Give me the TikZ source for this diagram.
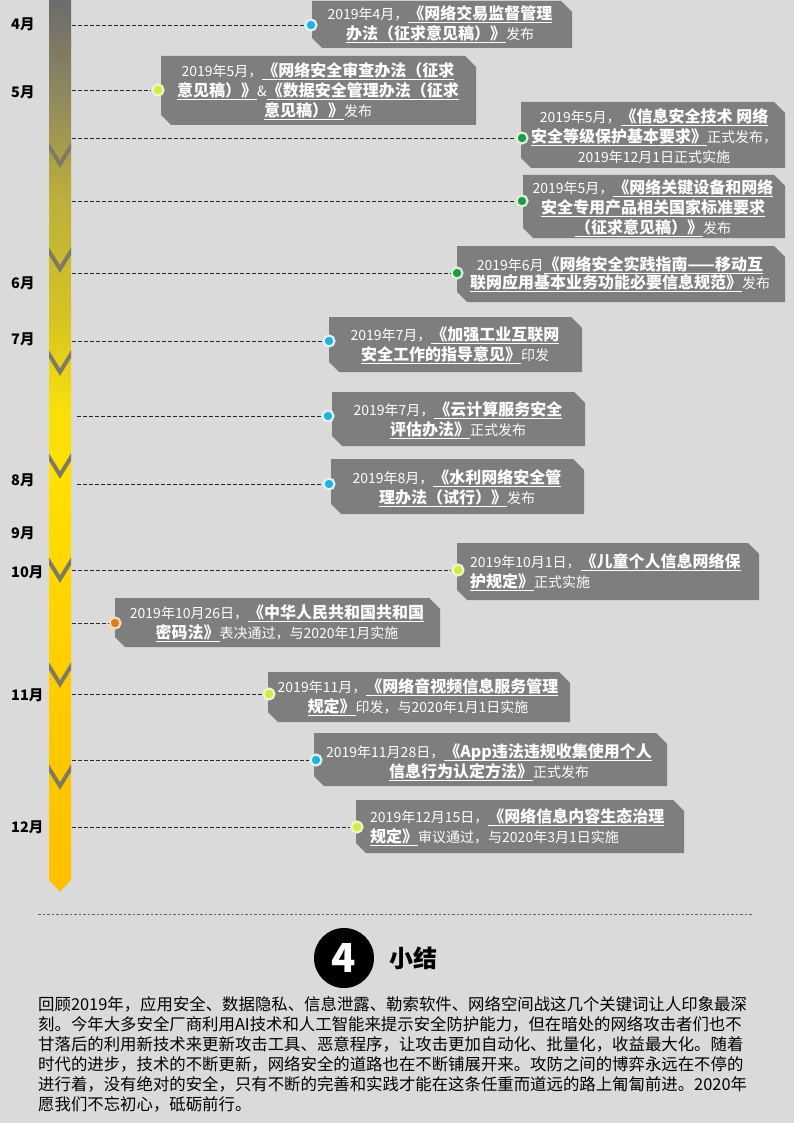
\documentclass[tikz,border=0pt]{standalone}
\usepackage{fontspec}
\setmainfont{Noto Sans CJK SC}
\definecolor{bg}{HTML}{DBDADB}
\definecolor{boxgray}{HTML}{7F7E7F}
\definecolor{dotcyan}{HTML}{22B2DA}
\definecolor{ringcyan}{HTML}{DDF1F4}
\definecolor{dotlime}{HTML}{D2EA48}
\definecolor{ringlime}{HTML}{EEF6C4}
\definecolor{dotgreen}{HTML}{1E9A4A}
\definecolor{ringgreen}{HTML}{DCEFD2}
\definecolor{dotorange}{HTML}{E07A24}
\definecolor{ringorange}{HTML}{F6DDB2}
\definecolor{chev}{HTML}{807A62}
\definecolor{sa}{HTML}{FFC000}
\definecolor{sb}{HTML}{FFC800}
\definecolor{sc}{HTML}{FFD400}
\definecolor{sd}{HTML}{FFE000}
\definecolor{se}{HTML}{F8E00A}
\definecolor{sf}{HTML}{D4C224}
\definecolor{sg}{HTML}{BDB03C}
\definecolor{sh}{HTML}{918A5C}
\definecolor{si}{HTML}{6C6C6C}
\pgfdeclareverticalshading{barshade}{100bp}{color(0bp)=(sa); color(25bp)=(sa); color(33bp)=(sb); color(41.4bp)=(sc); color(48bp)=(sd); color(52bp)=(se); color(57.5bp)=(sf); color(63.8bp)=(sg); color(69.4bp)=(sh); color(75bp)=(si); color(100bp)=(si)}
\newsavebox\ttlbox
\newcommand\ttl[1]{\sbox\ttlbox{\fontsize{16}{20}\selectfont\bfseries #1}\rlap{\rule[-3.6pt]{\wd\ttlbox}{1.1pt}}\usebox\ttlbox}
\newcommand\evbox[4]{\fill[boxgray] (#1,#2) -- ({#3-11},#2) -- (#3,{#2+11}) -- (#3,#4) -- ({#1+10},#4) -- (#1,{#4-10}) -- cycle;}
\tikzset{
  evtext/.style={text=white, font=\fontsize{14}{20}\selectfont, align=center, inner sep=0pt},
  evleft/.style={evtext, align=left, anchor=west},
  dot/.style 2 args={circle, fill=#1, draw=#2, line width=2.2pt, minimum size=11pt, inner sep=0pt},
  dline/.style={draw=black!85, line width=0.9pt, dash pattern=on 3.5pt off 2.5pt},
  month/.style={anchor=west, font=\fontsize{14.5}{16}\selectfont\bfseries, text=black, inner sep=0pt},
  chevron/.style={draw=chev, line width=4pt},
}
\begin{document}
\begin{tikzpicture}[x=1pt,y=-1pt]
\fill[bg] (0,0) rectangle (794,1123);
\useasboundingbox (0,0) rectangle (794,1123);
% bar
\shade[shading=barshade] (49,0) -- (71,0) -- (71,880) -- (60,892) -- (49,880) -- cycle;
\begin{scope}
\clip (49,0) -- (71,0) -- (71,880) -- (60,892) -- (49,880) -- cycle;
\foreach \t in {59,164,269,372,475,579,684,786}
  \draw[chevron] (47,{\t-21}) -- (60,\t) -- (73,{\t-21});
\end{scope}
% months
\node[month] (m4) at (11,24) {4月};
\node[month] (m5) at (11,92) {5月};
\node[month] (m6) at (11,283) {6月};
\node[month] (m7) at (11,339) {7月};
\node[month] (m8) at (11,480) {8月};
\node[month] (m9) at (11,533) {9月};
\node[month] (m10) at (11,572) {10月};
\node[month] (m11) at (11,695) {11月};
\node[month] (m12) at (11,827) {12月};
% bar anchor coordinates
\coordinate (b1) at (72,25);
\coordinate (b2) at (72,90);
\coordinate (b3) at (72,138);
\coordinate (b4) at (72,201);
\coordinate (b5) at (72,273);
\coordinate (b6) at (72,341);
\coordinate (b7) at (77,416);
\coordinate (b8) at (77,484);
\coordinate (b9) at (72,570);
\coordinate (b10) at (72,623);
\coordinate (b11) at (72,694);
\coordinate (b12) at (72,760);
\coordinate (b13) at (72,827);
% boxes
\evbox{312}{1}{572}{48}
\evbox{161}{56}{476}{125}
\evbox{521}{102}{785}{168}
\evbox{523}{175}{785}{238}
\evbox{457}{246}{785}{302}
\evbox{329}{317}{582}{372}
\evbox{332}{392}{585}{446}
\evbox{331}{459}{584}{514}
\evbox{457}{543}{759}{600}
\evbox{115}{598}{440}{647}
\evbox{268}{672}{570}{722}
\evbox{314}{733}{667}{786}
\evbox{356}{800}{684}{853}
% texts
\node[evtext] (t1) at (440,24.5) {2019年4月，\ttl{《网络交易监督管理}\\\ttl{办法（征求意见稿）》}发布};
\node[evtext] (t2) at (318,91) {2019年5月，\ttl{《网络安全审查办法（征求}\\\ttl{意见稿）》}\&\ttl{《数据安全管理办法（征求}\\\ttl{意见稿）》}发布};
\node[evtext] (t3) at (654,136) {2019年5月，\ttl{《信息安全技术 网络}\\\ttl{安全等级保护基本要求》}正式发布，\\2019年12月1日正式实施};
\node[evtext] (t4) at (653,208) {2019年5月，\ttl{《网络关键设备和网络}\\\ttl{安全专用产品相关国家标准要求}\\\ttl{（征求意见稿）》}发布};
\node[evtext, font=\fontsize{14}{18}\selectfont] (t5) at (620,274) {2019年6月\ttl{《网络安全实践指南——移动互}\\\ttl{联网应用基本业务功能必要信息规范》}发布};
\node[evtext] (t6) at (455,345) {2019年7月，\ttl{《加强工业互联网}\\\ttl{安全工作的指导意见》}印发};
\node[evtext] (t7) at (458,420) {2019年7月，\ttl{《云计算服务安全}\\\ttl{评估办法》}正式发布};
\node[evtext] (t8) at (457,488) {2019年8月，\ttl{《水利网络安全管}\\\ttl{理办法（试行）》}发布};
\node[evleft] (t9) at (470,572) {2019年10月1日，\ttl{《儿童个人信息网络保}\\\ttl{护规定》}正式实施};
\node[evtext] (t10) at (277,623) {2019年10月26日，\ttl{《中华人民共和国共和国}\\\ttl{密码法》}表决通过，与2020年1月实施};
\node[evtext] (t11) at (418,697) {2019年11月，\ttl{《网络音视频信息服务管理}\\\ttl{规定》}印发，与2020年1月1日实施};
\node[evtext] (t12) at (489,762) {2019年11月28日，\ttl{《App违法违规收集使用个人}\\\ttl{信息行为认定方法》}正式发布};
\node[evleft] (t13) at (370,827) {2019年12月15日，\ttl{《网络信息内容生态治理}\\\ttl{规定》}审议通过，与2020年3月1日实施};
% dots
\node[dot={dotcyan}{ringcyan}] (d1) at (311,25) {};
\node[dot={dotlime}{ringlime}] (d2) at (158,90) {};
\node[dot={dotgreen}{ringgreen}] (d3) at (522,138) {};
\node[dot={dotgreen}{ringgreen}] (d4) at (522,201) {};
\node[dot={dotgreen}{ringgreen}] (d5) at (457,273) {};
\node[dot={dotcyan}{ringcyan}] (d6) at (329,341) {};
\node[dot={dotcyan}{ringcyan}] (d7) at (328,416) {};
\node[dot={dotcyan}{ringcyan}] (d8) at (329,484) {};
\node[dot={dotlime}{ringlime}] (d9) at (458,570) {};
\node[dot={dotorange}{ringorange}] (d10) at (115,623) {};
\node[dot={dotlime}{ringlime}] (d11) at (269,694) {};
\node[dot={dotcyan}{ringcyan}] (d12) at (316,760) {};
\node[dot={dotlime}{ringlime}] (d13) at (357,827) {};
% connectors
\foreach \i in {1,...,13} \draw[dline] (b\i) -- (d\i);
% summary
\coordinate (sl) at (38,914);
\coordinate (sr) at (752,914);
\draw[draw=black!60, line width=0.8pt, dash pattern=on 2.5pt off 2pt] (sl) -- (sr);
\node[circle, fill=black, minimum size=60pt, inner sep=0pt, text=white, font=\fontsize{40}{40}\selectfont\bfseries] (num) at (344,958) {4};
\node[anchor=west, inner sep=0pt, font=\fontsize{24}{26}\selectfont\bfseries] (title) at (389,958) {小结};
\node[anchor=north west, align=left, inner sep=0pt, font=\fontsize{16.4}{20}\selectfont] (para) at (38,996) {回顾2019年，应用安全、数据隐私、信息泄露、勒索软件、网络空间战这几个关键词让人印象最深\\刻。今年大多安全厂商利用AI技术和人工智能来提示安全防护能力，但在暗处的网络攻击者们也不\\甘落后的利用新技术来更新攻击工具、恶意程序，让攻击更加自动化、批量化，收益最大化。随着\\时代的进步，技术的不断更新，网络安全的道路也在不断铺展开来。攻防之间的博弈永远在不停的\\进行着，没有绝对的安全，只有不断的完善和实践才能在这条任重而道远的路上匍匐前进。2020年\\愿我们不忘初心，砥砺前行。};
\end{tikzpicture}
\end{document}
